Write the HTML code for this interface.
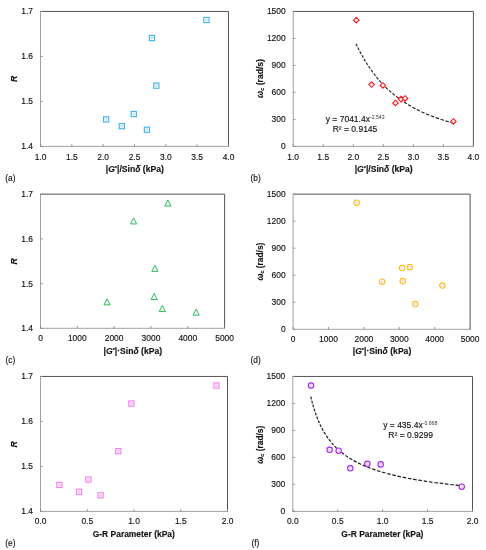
<!DOCTYPE html>
<html lang="en">
<head>
<meta charset="utf-8">
<title>Figure</title>
<style>
html,body{margin:0;padding:0;background:#fff;}
body{width:486px;height:550px;overflow:hidden;}
svg{display:block;}
text{font-family:"Liberation Sans", sans-serif;fill:#111;stroke:#111;stroke-width:0.14px;}
.tk{font-size:8.45px;}
.ax{font-size:8.6px;font-weight:bold;}
.pl{font-size:8.3px;}
.eq{font-size:8.5px;}
.sup{font-size:5.2px;fill:#333;stroke:none;}
</style>
</head>
<body>
<svg width="486" height="550" viewBox="0 0 486 550">
<rect width="486" height="550" fill="#fff"/>
<g id="plot-a">
<path d="M40.5 11.45V146.4H228.5" fill="none" stroke="#9c9c9c" stroke-width="0.95"/>
<path d="M40.5 11.45H228.5V146.4" fill="none" stroke="#525252" stroke-width="1"/>
<path d="M40.50 146.4v-2.3M71.83 146.4v-2.3M103.17 146.4v-2.3M134.50 146.4v-2.3M165.83 146.4v-2.3M197.17 146.4v-2.3M228.50 146.4v-2.3M40.5 146.40h2.3M40.5 101.42h2.3M40.5 56.43h2.3M40.5 11.45h2.3" fill="none" stroke="#808080" stroke-width="0.8"/>
<text x="40.50" y="159.80" text-anchor="middle" class="tk">1.0</text>
<text x="71.83" y="159.80" text-anchor="middle" class="tk">1.5</text>
<text x="103.17" y="159.80" text-anchor="middle" class="tk">2.0</text>
<text x="134.50" y="159.80" text-anchor="middle" class="tk">2.5</text>
<text x="165.83" y="159.80" text-anchor="middle" class="tk">3.0</text>
<text x="197.17" y="159.80" text-anchor="middle" class="tk">3.5</text>
<text x="228.50" y="159.80" text-anchor="middle" class="tk">4.0</text>
<text x="33.00" y="148.90" text-anchor="end" class="tk">1.4</text>
<text x="33.00" y="103.92" text-anchor="end" class="tk">1.5</text>
<text x="33.00" y="58.93" text-anchor="end" class="tk">1.6</text>
<text x="33.00" y="13.95" text-anchor="end" class="tk">1.7</text>
<rect x="103.57" y="116.81" width="5.2" height="5.2" fill="#fff" stroke="#3bb2ea" stroke-width="1.1"/><rect x="104.87" y="118.11" width="2.6" height="2.6" fill="#cfe0ee"/>
<rect x="119.24" y="123.56" width="5.2" height="5.2" fill="#fff" stroke="#3bb2ea" stroke-width="1.1"/><rect x="120.54" y="124.86" width="2.6" height="2.6" fill="#cfe0ee"/>
<rect x="131.15" y="111.41" width="5.2" height="5.2" fill="#fff" stroke="#3bb2ea" stroke-width="1.1"/><rect x="132.45" y="112.71" width="2.6" height="2.6" fill="#cfe0ee"/>
<rect x="144.31" y="127.16" width="5.2" height="5.2" fill="#fff" stroke="#3bb2ea" stroke-width="1.1"/><rect x="145.61" y="128.46" width="2.6" height="2.6" fill="#cfe0ee"/>
<rect x="149.32" y="35.39" width="5.2" height="5.2" fill="#fff" stroke="#3bb2ea" stroke-width="1.1"/><rect x="150.62" y="36.69" width="2.6" height="2.6" fill="#cfe0ee"/>
<rect x="153.71" y="83.07" width="5.2" height="5.2" fill="#fff" stroke="#3bb2ea" stroke-width="1.1"/><rect x="155.01" y="84.37" width="2.6" height="2.6" fill="#cfe0ee"/>
<rect x="203.84" y="17.40" width="5.2" height="5.2" fill="#fff" stroke="#3bb2ea" stroke-width="1.1"/><rect x="205.14" y="18.70" width="2.6" height="2.6" fill="#cfe0ee"/>
</g>
<g id="plot-b">
<path d="M293.2 11.45V146.4H473.4" fill="none" stroke="#9c9c9c" stroke-width="0.95"/>
<path d="M293.2 11.45H473.4V146.4" fill="none" stroke="#525252" stroke-width="1"/>
<path d="M293.20 146.4v-2.3M323.23 146.4v-2.3M353.27 146.4v-2.3M383.30 146.4v-2.3M413.33 146.4v-2.3M443.37 146.4v-2.3M473.40 146.4v-2.3M293.2 146.40h2.3M293.2 119.41h2.3M293.2 92.42h2.3M293.2 65.43h2.3M293.2 38.44h2.3M293.2 11.45h2.3" fill="none" stroke="#808080" stroke-width="0.8"/>
<text x="293.20" y="159.70" text-anchor="middle" class="tk">1.0</text>
<text x="323.23" y="159.70" text-anchor="middle" class="tk">1.5</text>
<text x="353.27" y="159.70" text-anchor="middle" class="tk">2.0</text>
<text x="383.30" y="159.70" text-anchor="middle" class="tk">2.5</text>
<text x="413.33" y="159.70" text-anchor="middle" class="tk">3.0</text>
<text x="443.37" y="159.70" text-anchor="middle" class="tk">3.5</text>
<text x="473.40" y="159.70" text-anchor="middle" class="tk">4.0</text>
<text x="285.70" y="148.90" text-anchor="end" class="tk">0</text>
<text x="285.70" y="121.91" text-anchor="end" class="tk">300</text>
<text x="285.70" y="94.92" text-anchor="end" class="tk">600</text>
<text x="285.70" y="67.93" text-anchor="end" class="tk">900</text>
<text x="285.70" y="40.94" text-anchor="end" class="tk">1200</text>
<text x="285.70" y="13.95" text-anchor="end" class="tk">1500</text>
<path d="M355.97 43.68L356.09 43.94L357.20 46.25M357.82 47.52L357.91 47.70L359.11 50.07M359.77 51.34L359.86 51.51L361.12 53.87M361.81 55.13L361.92 55.33L363.23 57.63M363.95 58.88L363.99 58.94L365.44 61.37M366.21 62.60L366.30 62.74L367.75 65.03L367.77 65.06M368.57 66.28L368.60 66.32L370.06 68.47L370.22 68.70M371.07 69.91L371.16 70.03L372.61 72.04L372.80 72.30M373.69 73.48L373.71 73.51L375.16 75.39L375.51 75.83M376.45 77.00L376.50 77.06L377.96 78.83L378.37 79.31M379.35 80.45L379.42 80.53L380.87 82.17L381.37 82.71M382.40 83.82L382.45 83.88L383.91 85.41L384.52 86.03M385.61 87.11L385.61 87.12L387.07 88.54L387.83 89.26M388.97 90.31L389.01 90.35L390.47 91.67L391.30 92.39M392.49 93.41L392.54 93.45L393.99 94.66L394.93 95.42M396.18 96.41L396.18 96.41L397.64 97.53L398.72 98.34M400.02 99.28L400.07 99.32L401.53 100.35L402.66 101.13M404.01 102.03L404.08 102.07L405.54 103.02L406.76 103.79M408.16 104.65L408.21 104.69L409.67 105.56L411.00 106.33M412.44 107.14L412.46 107.15L413.92 107.95L415.37 108.73M416.86 109.50L416.96 109.55L418.41 110.28L419.87 110.99M421.39 111.72L421.45 111.75L422.91 112.42L424.37 113.07L424.48 113.12M426.04 113.80L426.07 113.82L427.52 114.43L428.98 115.03L429.19 115.12M430.78 115.76L430.80 115.76L432.26 116.33L433.72 116.88L434.00 116.99M435.62 117.58L435.66 117.60L437.12 118.12L438.58 118.63L438.88 118.73M440.52 119.29L440.64 119.32L442.10 119.80L443.56 120.27L443.84 120.36M445.50 120.87L445.50 120.87L446.96 121.31L448.42 121.74L448.85 121.87M450.54 122.35L450.61 122.37L452.06 122.77L453.16 123.07" fill="none" stroke="#1c1c1c" stroke-width="1.1"/>
<path d="M356.27 17.45L359.02 20.20L356.27 22.95L353.52 20.20Z" fill="#fff" stroke="#f5181f" stroke-width="1.1"/><path d="M356.27 19.10L357.37 20.20L356.27 21.30L355.17 20.20Z" fill="#f8dede"/>
<path d="M371.59 81.77L374.34 84.52L371.59 87.27L368.84 84.52Z" fill="#fff" stroke="#f5181f" stroke-width="1.1"/><path d="M371.59 83.42L372.69 84.52L371.59 85.62L370.49 84.52Z" fill="#f8dede"/>
<path d="M382.82 82.67L385.57 85.42L382.82 88.17L380.07 85.42Z" fill="#fff" stroke="#f5181f" stroke-width="1.1"/><path d="M382.82 84.32L383.92 85.42L382.82 86.52L381.72 85.42Z" fill="#f8dede"/>
<path d="M395.49 100.22L398.24 102.97L395.49 105.72L392.74 102.97Z" fill="#fff" stroke="#f5181f" stroke-width="1.1"/><path d="M395.49 101.87L396.59 102.97L395.49 104.07L394.39 102.97Z" fill="#f8dede"/>
<path d="M401.02 96.35L403.77 99.10L401.02 101.85L398.27 99.10Z" fill="#fff" stroke="#f5181f" stroke-width="1.1"/><path d="M401.02 98.00L402.12 99.10L401.02 100.20L399.92 99.10Z" fill="#f8dede"/>
<path d="M405.10 95.72L407.85 98.47L405.10 101.22L402.35 98.47Z" fill="#fff" stroke="#f5181f" stroke-width="1.1"/><path d="M405.10 97.37L406.20 98.47L405.10 99.57L404.00 98.47Z" fill="#f8dede"/>
<path d="M453.46 118.66L456.21 121.41L453.46 124.16L450.71 121.41Z" fill="#fff" stroke="#f5181f" stroke-width="1.1"/><path d="M453.46 120.31L454.56 121.41L453.46 122.51L452.36 121.41Z" fill="#f8dede"/>
</g>
<g id="plot-c">
<path d="M40.5 194.15V328.3H224.6" fill="none" stroke="#9c9c9c" stroke-width="0.95"/>
<path d="M40.5 194.15H224.6V328.3" fill="none" stroke="#525252" stroke-width="1"/>
<path d="M40.50 328.3v-2.3M77.32 328.3v-2.3M114.14 328.3v-2.3M150.96 328.3v-2.3M187.78 328.3v-2.3M224.60 328.3v-2.3M40.5 328.30h2.3M40.5 283.58h2.3M40.5 238.87h2.3M40.5 194.15h2.3" fill="none" stroke="#808080" stroke-width="0.8"/>
<text x="40.50" y="341.30" text-anchor="middle" class="tk">0</text>
<text x="77.32" y="341.30" text-anchor="middle" class="tk">1000</text>
<text x="114.14" y="341.30" text-anchor="middle" class="tk">2000</text>
<text x="150.96" y="341.30" text-anchor="middle" class="tk">3000</text>
<text x="187.78" y="341.30" text-anchor="middle" class="tk">4000</text>
<text x="224.60" y="341.30" text-anchor="middle" class="tk">5000</text>
<text x="33.00" y="331.30" text-anchor="end" class="tk">1.4</text>
<text x="33.00" y="286.58" text-anchor="end" class="tk">1.5</text>
<text x="33.00" y="241.87" text-anchor="end" class="tk">1.6</text>
<text x="33.00" y="197.15" text-anchor="end" class="tk">1.7</text>
<path d="M107.08 298.87L110.18 304.87L103.98 304.87Z" fill="#fff" stroke="#2fb85c" stroke-width="1"/><path d="M107.08 301.57L108.18 303.77L105.98 303.77Z" fill="#eef7f0"/>
<path d="M162.31 305.58L165.41 311.58L159.21 311.58Z" fill="#fff" stroke="#2fb85c" stroke-width="1"/><path d="M162.31 308.28L163.41 310.48L161.21 310.48Z" fill="#eef7f0"/>
<path d="M154.21 293.50L157.31 299.50L151.11 299.50Z" fill="#fff" stroke="#2fb85c" stroke-width="1"/><path d="M154.21 296.20L155.31 298.40L153.11 298.40Z" fill="#eef7f0"/>
<path d="M196.18 309.15L199.28 315.15L193.08 315.15Z" fill="#fff" stroke="#2fb85c" stroke-width="1"/><path d="M196.18 311.85L197.28 314.05L195.08 314.05Z" fill="#eef7f0"/>
<path d="M133.59 217.93L136.69 223.93L130.49 223.93Z" fill="#fff" stroke="#2fb85c" stroke-width="1"/><path d="M133.59 220.63L134.69 222.83L132.49 222.83Z" fill="#eef7f0"/>
<path d="M154.94 265.33L158.04 271.33L151.84 271.33Z" fill="#fff" stroke="#2fb85c" stroke-width="1"/><path d="M154.94 268.03L156.04 270.23L153.84 270.23Z" fill="#eef7f0"/>
<path d="M167.83 200.05L170.93 206.05L164.73 206.05Z" fill="#fff" stroke="#2fb85c" stroke-width="1"/><path d="M167.83 202.75L168.93 204.95L166.73 204.95Z" fill="#eef7f0"/>
</g>
<g id="plot-d">
<path d="M293.1 194.15V329.3H470.1" fill="none" stroke="#9c9c9c" stroke-width="0.95"/>
<path d="M293.1 194.15H470.1V329.3" fill="none" stroke="#525252" stroke-width="1"/>
<path d="M293.10 329.3v-2.3M328.50 329.3v-2.3M363.90 329.3v-2.3M399.30 329.3v-2.3M434.70 329.3v-2.3M470.10 329.3v-2.3M293.1 329.30h2.3M293.1 302.27h2.3M293.1 275.24h2.3M293.1 248.21h2.3M293.1 221.18h2.3M293.1 194.15h2.3" fill="none" stroke="#808080" stroke-width="0.8"/>
<text x="293.10" y="342.40" text-anchor="middle" class="tk">0</text>
<text x="328.50" y="342.40" text-anchor="middle" class="tk">1000</text>
<text x="363.90" y="342.40" text-anchor="middle" class="tk">2000</text>
<text x="399.30" y="342.40" text-anchor="middle" class="tk">3000</text>
<text x="434.70" y="342.40" text-anchor="middle" class="tk">4000</text>
<text x="470.10" y="342.40" text-anchor="middle" class="tk">5000</text>
<text x="285.60" y="331.80" text-anchor="end" class="tk">0</text>
<text x="285.60" y="304.77" text-anchor="end" class="tk">300</text>
<text x="285.60" y="277.74" text-anchor="end" class="tk">600</text>
<text x="285.60" y="250.71" text-anchor="end" class="tk">900</text>
<text x="285.60" y="223.68" text-anchor="end" class="tk">1200</text>
<text x="285.60" y="196.65" text-anchor="end" class="tk">1500</text>
<circle cx="356.72" cy="202.71" r="2.7" fill="#fff" stroke="#fcbe2b" stroke-width="1.15"/><circle cx="356.72" cy="202.71" r="1.4" fill="#f9e3e0"/>
<circle cx="409.82" cy="267.13" r="2.7" fill="#fff" stroke="#fcbe2b" stroke-width="1.15"/><circle cx="409.82" cy="267.13" r="1.4" fill="#f9e3e0"/>
<circle cx="402.03" cy="268.03" r="2.7" fill="#fff" stroke="#fcbe2b" stroke-width="1.15"/><circle cx="402.03" cy="268.03" r="1.4" fill="#f9e3e0"/>
<circle cx="442.39" cy="285.60" r="2.7" fill="#fff" stroke="#fcbe2b" stroke-width="1.15"/><circle cx="442.39" cy="285.60" r="1.4" fill="#f9e3e0"/>
<circle cx="382.21" cy="281.73" r="2.7" fill="#fff" stroke="#fcbe2b" stroke-width="1.15"/><circle cx="382.21" cy="281.73" r="1.4" fill="#f9e3e0"/>
<circle cx="402.74" cy="281.10" r="2.7" fill="#fff" stroke="#fcbe2b" stroke-width="1.15"/><circle cx="402.74" cy="281.10" r="1.4" fill="#f9e3e0"/>
<circle cx="415.13" cy="304.07" r="2.7" fill="#fff" stroke="#fcbe2b" stroke-width="1.15"/><circle cx="415.13" cy="304.07" r="1.4" fill="#f9e3e0"/>
</g>
<g id="plot-e">
<path d="M40.5 376.45V511.4H227.5" fill="none" stroke="#9c9c9c" stroke-width="0.95"/>
<path d="M40.5 376.45H227.5V511.4" fill="none" stroke="#525252" stroke-width="1"/>
<path d="M40.50 511.4v-2.3M87.25 511.4v-2.3M134.00 511.4v-2.3M180.75 511.4v-2.3M227.50 511.4v-2.3M40.5 511.40h2.3M40.5 466.42h2.3M40.5 421.43h2.3M40.5 376.45h2.3" fill="none" stroke="#808080" stroke-width="0.8"/>
<text x="40.50" y="524.00" text-anchor="middle" class="tk">0.0</text>
<text x="87.25" y="524.00" text-anchor="middle" class="tk">0.5</text>
<text x="134.00" y="524.00" text-anchor="middle" class="tk">1.0</text>
<text x="180.75" y="524.00" text-anchor="middle" class="tk">1.5</text>
<text x="227.50" y="524.00" text-anchor="middle" class="tk">2.0</text>
<text x="33.00" y="514.30" text-anchor="end" class="tk">1.4</text>
<text x="33.00" y="469.32" text-anchor="end" class="tk">1.5</text>
<text x="33.00" y="424.33" text-anchor="end" class="tk">1.6</text>
<text x="33.00" y="379.35" text-anchor="end" class="tk">1.7</text>
<rect x="56.80" y="482.36" width="5.2" height="5.2" fill="#fff" stroke="#f27be9" stroke-width="1.1"/><rect x="58.10" y="483.66" width="2.6" height="2.6" fill="#f6c4f1"/>
<rect x="76.44" y="489.11" width="5.2" height="5.2" fill="#fff" stroke="#f27be9" stroke-width="1.1"/><rect x="77.74" y="490.41" width="2.6" height="2.6" fill="#f6c4f1"/>
<rect x="85.79" y="476.96" width="5.2" height="5.2" fill="#fff" stroke="#f27be9" stroke-width="1.1"/><rect x="87.09" y="478.26" width="2.6" height="2.6" fill="#f6c4f1"/>
<rect x="97.94" y="492.71" width="5.2" height="5.2" fill="#fff" stroke="#f27be9" stroke-width="1.1"/><rect x="99.24" y="494.01" width="2.6" height="2.6" fill="#f6c4f1"/>
<rect x="128.79" y="400.94" width="5.2" height="5.2" fill="#fff" stroke="#f27be9" stroke-width="1.1"/><rect x="130.09" y="402.24" width="2.6" height="2.6" fill="#f6c4f1"/>
<rect x="115.70" y="448.62" width="5.2" height="5.2" fill="#fff" stroke="#f27be9" stroke-width="1.1"/><rect x="117.00" y="449.92" width="2.6" height="2.6" fill="#f6c4f1"/>
<rect x="213.88" y="382.95" width="5.2" height="5.2" fill="#fff" stroke="#f27be9" stroke-width="1.1"/><rect x="215.18" y="384.25" width="2.6" height="2.6" fill="#f6c4f1"/>
</g>
<g id="plot-f">
<path d="M292.8 376.45V511.4H472.5" fill="none" stroke="#9c9c9c" stroke-width="0.95"/>
<path d="M292.8 376.45H472.5V511.4" fill="none" stroke="#525252" stroke-width="1"/>
<path d="M292.80 511.4v-2.3M337.73 511.4v-2.3M382.65 511.4v-2.3M427.57 511.4v-2.3M472.50 511.4v-2.3M292.8 511.40h2.3M292.8 484.41h2.3M292.8 457.42h2.3M292.8 430.43h2.3M292.8 403.44h2.3M292.8 376.45h2.3" fill="none" stroke="#808080" stroke-width="0.8"/>
<text x="292.80" y="523.80" text-anchor="middle" class="tk">0.0</text>
<text x="337.73" y="523.80" text-anchor="middle" class="tk">0.5</text>
<text x="382.65" y="523.80" text-anchor="middle" class="tk">1.0</text>
<text x="427.57" y="523.80" text-anchor="middle" class="tk">1.5</text>
<text x="472.50" y="523.80" text-anchor="middle" class="tk">2.0</text>
<text x="285.30" y="514.20" text-anchor="end" class="tk">0</text>
<text x="285.30" y="487.21" text-anchor="end" class="tk">300</text>
<text x="285.30" y="460.22" text-anchor="end" class="tk">600</text>
<text x="285.30" y="433.23" text-anchor="end" class="tk">900</text>
<text x="285.30" y="406.24" text-anchor="end" class="tk">1200</text>
<text x="285.30" y="379.25" text-anchor="end" class="tk">1500</text>
<path d="M310.77 396.62L310.96 397.42L311.42 399.30M311.76 400.64L311.91 401.22L312.46 403.31M312.83 404.65L312.85 404.72L313.60 407.31M314.01 408.64L314.18 409.18L314.85 411.29M315.30 412.61L315.31 412.66L316.23 415.25M316.71 416.56L316.83 416.86L317.74 419.17M318.27 420.48L318.34 420.64L319.40 423.07M319.99 424.35L320.04 424.47L321.23 426.91M321.88 428.19L321.94 428.28L323.25 430.71M323.98 431.96L324.02 432.03L325.49 434.43M326.28 435.66L326.29 435.67L327.95 438.07M328.82 439.26L328.94 439.42L330.65 441.61M331.61 442.77L331.78 442.97L333.61 445.04M334.65 446.15L334.80 446.30L336.83 448.32M337.96 449.38L338.02 449.43L340.29 451.43L340.31 451.44M341.53 452.45L341.62 452.52L343.89 454.28L344.04 454.40M345.34 455.34L345.40 455.39L347.67 456.95L348.01 457.17M349.39 458.05L349.57 458.17L351.84 459.54L352.20 459.75M353.64 460.57L353.73 460.62L356.00 461.85L356.58 462.15M358.07 462.91L358.08 462.91L360.35 464.01L361.12 464.36M362.66 465.06L362.81 465.13L365.08 466.10L365.80 466.40M367.39 467.04L367.54 467.10L369.81 467.98L370.60 468.27M372.22 468.86L372.28 468.88L374.55 469.68L375.50 470.00M377.15 470.54L377.20 470.56L379.47 471.27L380.48 471.58M382.15 472.08L382.31 472.13L384.58 472.78L385.52 473.04M387.21 473.50L387.23 473.51L389.50 474.10L390.62 474.39M392.33 474.82L392.34 474.82L394.61 475.36L395.76 475.64M397.48 476.03L397.63 476.06L399.91 476.57L400.94 476.79M402.68 477.15L402.74 477.17L405.01 477.63L406.15 477.86M407.90 478.20L408.04 478.23L410.31 478.66L411.39 478.86M413.14 479.17L413.15 479.18L415.42 479.58L416.65 479.79M418.41 480.08L418.45 480.09L420.72 480.46L421.93 480.66M423.69 480.93L423.75 480.94L426.02 481.29L427.22 481.47M428.98 481.73L429.05 481.74L431.32 482.06L432.52 482.23M434.29 482.48L434.35 482.49L436.62 482.79L437.84 482.95M439.61 483.18L439.65 483.19L441.92 483.47L443.16 483.63M444.94 483.85L444.95 483.85L447.22 484.12L448.50 484.27M450.28 484.47L450.43 484.49L452.70 484.75L453.84 484.87M455.62 485.07L455.73 485.08L458.00 485.32L459.19 485.45M460.97 485.63L461.03 485.64L462.17 485.75" fill="none" stroke="#1c1c1c" stroke-width="1.2"/>
<circle cx="311.04" cy="385.50" r="2.7" fill="#fff" stroke="#a428f0" stroke-width="1.15"/><circle cx="311.04" cy="385.50" r="1.4" fill="#e9d6f6"/>
<circle cx="329.64" cy="449.82" r="2.7" fill="#fff" stroke="#a428f0" stroke-width="1.15"/><circle cx="329.64" cy="449.82" r="1.4" fill="#e9d6f6"/>
<circle cx="338.62" cy="450.72" r="2.7" fill="#fff" stroke="#a428f0" stroke-width="1.15"/><circle cx="338.62" cy="450.72" r="1.4" fill="#e9d6f6"/>
<circle cx="350.30" cy="468.27" r="2.7" fill="#fff" stroke="#a428f0" stroke-width="1.15"/><circle cx="350.30" cy="468.27" r="1.4" fill="#e9d6f6"/>
<circle cx="380.67" cy="464.40" r="2.7" fill="#fff" stroke="#a428f0" stroke-width="1.15"/><circle cx="380.67" cy="464.40" r="1.4" fill="#e9d6f6"/>
<circle cx="367.38" cy="463.77" r="2.7" fill="#fff" stroke="#a428f0" stroke-width="1.15"/><circle cx="367.38" cy="463.77" r="1.4" fill="#e9d6f6"/>
<circle cx="461.72" cy="486.71" r="2.7" fill="#fff" stroke="#a428f0" stroke-width="1.15"/><circle cx="461.72" cy="486.71" r="1.4" fill="#e9d6f6"/>
</g>
<text transform="translate(17.2 79) rotate(-90)" text-anchor="middle" class="ax" style="font-size:8.6px"><tspan font-style="italic">R</tspan></text>
<text transform="translate(17.2 261.3) rotate(-90)" text-anchor="middle" class="ax" style="font-size:8.6px"><tspan font-style="italic">R</tspan></text>
<text transform="translate(17.2 444.4) rotate(-90)" text-anchor="middle" class="ax" style="font-size:8.6px"><tspan font-style="italic">R</tspan></text>
<text transform="translate(262.6 78.5) rotate(-90)" text-anchor="middle" class="ax" style="font-size:8.6px"><tspan font-style="italic">ω</tspan><tspan font-size="5.5" dy="1.5">c</tspan><tspan dy="-1.5"> (rad/s)</tspan></text>
<text transform="translate(262.6 261.6) rotate(-90)" text-anchor="middle" class="ax" style="font-size:8.4px"><tspan font-style="italic">ω</tspan><tspan font-size="5.5" dy="1.5">c</tspan><tspan dy="-1.5"> (rad/s)</tspan></text>
<text transform="translate(262.6 444.7) rotate(-90)" text-anchor="middle" class="ax" style="font-size:8.4px"><tspan font-style="italic">ω</tspan><tspan font-size="5.5" dy="1.5">c</tspan><tspan dy="-1.5"> (rad/s)</tspan></text>
<text x="134.8" y="172.2" text-anchor="middle" class="ax">|<tspan font-style="italic">G</tspan><tspan font-size="5.5" dy="-2.5">*</tspan><tspan dy="2.5">|</tspan>/Sin<tspan font-style="italic">δ</tspan> (kPa)</text>
<text x="383.7" y="172.2" text-anchor="middle" class="ax">|<tspan font-style="italic">G</tspan><tspan font-size="5.5" dy="-2.5">*</tspan><tspan dy="2.5">|</tspan>/Sin<tspan font-style="italic">δ</tspan> (kPa)</text>
<text x="132.8" y="354.1" text-anchor="middle" class="ax">|<tspan font-style="italic">G</tspan><tspan font-size="5.5" dy="-2.5">*</tspan><tspan dy="2.5">|</tspan>·Sin<tspan font-style="italic">δ</tspan> (kPa)</text>
<text x="382" y="354.4" text-anchor="middle" class="ax">|<tspan font-style="italic">G</tspan><tspan font-size="5.5" dy="-2.5">*</tspan><tspan dy="2.5">|</tspan>·Sin<tspan font-style="italic">δ</tspan> (kPa)</text>
<text x="133.8" y="536.6" text-anchor="middle" class="ax" style="font-size:8.45px">G-R Parameter (kPa)</text>
<text x="382.4" y="536.6" text-anchor="middle" class="ax" style="font-size:8.45px">G-R Parameter (kPa)</text>
<text x="5.3" y="180.6" class="pl">(a)</text>
<text x="250.6" y="180.8" class="pl">(b)</text>
<text x="5.5" y="362.7" class="pl">(c)</text>
<text x="250.6" y="362.8" class="pl">(d)</text>
<text x="5.3" y="545.9" class="pl">(e)</text>
<text x="251.4" y="546" class="pl">(f)</text>
<text x="355.2" y="121.6" text-anchor="middle" class="eq">y = 7041.4x<tspan class="sup" dy="-3">-2.543</tspan></text>
<text x="355.0" y="131.9" text-anchor="middle" class="eq">R² = 0.9145</text>
<text x="410.3" y="428.2" text-anchor="middle" class="eq">y = 435.4x<tspan class="sup" dy="-3">-0.668</tspan></text>
<text x="410.7" y="437.7" text-anchor="middle" class="eq">R² = 0.9299</text>
</svg>
</body>
</html>
